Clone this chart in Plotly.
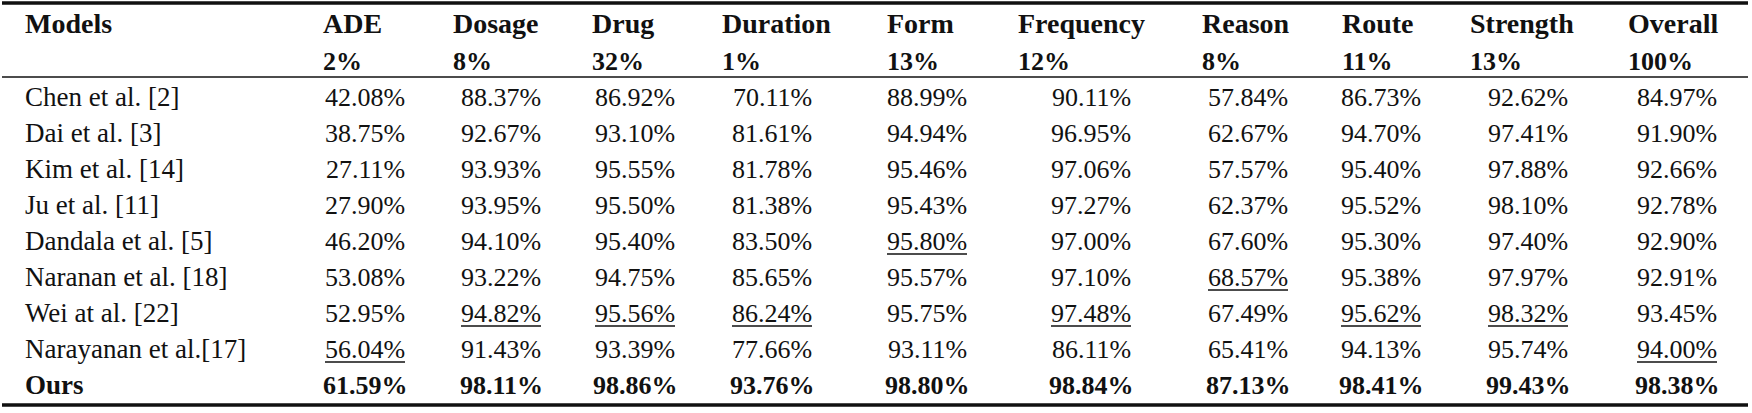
import plotly.graph_objects as go

# table content
models = ["Chen et al. [2]", "Dai et al. [3]", "Kim et al. [14]", "Ju et al. [11]",
          "Dandala et al. [5]", "Naranan et al. [18]", "Wei at al. [22]",
          "Narayanan et al.[17]", "Ours"]
categories = ["ADE", "Dosage", "Drug", "Duration", "Form", "Frequency",
              "Reason", "Route", "Strength", "Overall"]
weights = ["2%", "8%", "32%", "1%", "13%", "12%", "8%", "11%", "13%", "100%"]

chen = [42.08, 88.37, 86.92, 70.11, 88.99, 90.11, 57.84, 86.73, 92.62, 84.97]
dai = [38.75, 92.67, 93.10, 81.61, 94.94, 96.95, 62.67, 94.70, 97.41, 91.90]
kim = [27.11, 93.93, 95.55, 81.78, 95.46, 97.06, 57.57, 95.40, 97.88, 92.66]
ju = [27.90, 93.95, 95.50, 81.38, 95.43, 97.27, 62.37, 95.52, 98.10, 92.78]
dandala = [46.20, 94.10, 95.40, 83.50, 95.80, 97.00, 67.60, 95.30, 97.40, 92.90]
naranan = [53.08, 93.22, 94.75, 85.65, 95.57, 97.10, 68.57, 95.38, 97.97, 92.91]
wei = [52.95, 94.82, 95.56, 86.24, 95.75, 97.48, 67.49, 95.62, 98.32, 93.45]
narayanan = [56.04, 91.43, 93.39, 77.66, 93.11, 86.11, 65.41, 94.13, 95.74, 94.00]
ours = [61.59, 98.11, 98.86, 93.76, 98.80, 98.84, 87.13, 98.41, 99.43, 98.38]

rows = [chen, dai, kim, ju, dandala, naranan, wei, narayanan, ours]

# layout (pixel units on the axes)
W, H = 1752, 413
name_x = 24
head_x = [322, 452, 591, 721, 886, 1017, 1201, 1341, 1469, 1627]
cell_x = [365, 501, 635, 772, 927, 1091, 1248, 1381, 1528, 1677]
head_y1, head_y2 = 23, 61
row0, row_step = 97, 36
rule_top, rule_mid, rule_bot = 3, 77, 405
rule_x0, rule_x1 = 2, 1748

FONT = "Liberation Serif"
INK = "#111111"

fig = go.Figure()
fig.add_trace(go.Scatter(x=[0, W], y=[0, H], mode="markers",
                         marker=dict(opacity=0), hoverinfo="skip", showlegend=False))

ann = []
def txt(x, y, s, size, anchor="center", bold=False):
    if bold:
        s = "<b>" + s + "</b>"
    ann.append(dict(x=x, y=y, xref="x", yref="y", text=s, showarrow=False,
                    xanchor=anchor, yanchor="middle", borderpad=0,
                    font=dict(family=FONT, size=size, color=INK)))

# header
txt(name_x, head_y1, "Models", 28, "left", True)
for c, cat in enumerate(categories):
    txt(head_x[c], head_y1, cat, 28, "left", True)
    txt(head_x[c], head_y2, weights[c], 26, "left", True)

# second best per column (excluding ours) gets underlined
second = [max(r[c] for r in rows[:-1]) for c in range(len(categories))]

shapes = []
for i, (name, vals) in enumerate(zip(models, rows)):
    y = row0 + i * row_step
    last = i == len(rows) - 1
    txt(name_x, y, name, 27, "left", last)
    for c, v in enumerate(vals):
        txt(cell_x[c], y, "%.2f%%" % v, 26, "center", last)
        if not last and v == second[c]:
            shapes.append(dict(type="line", xref="x", yref="y",
                               x0=cell_x[c] - 40, x1=cell_x[c] + 40,
                               y0=y + 13, y1=y + 13,
                               line=dict(color=INK, width=1.5)))

for yy, w in [(rule_top, 3.5), (rule_mid, 1.6), (rule_bot, 3.5)]:
    shapes.append(dict(type="line", xref="x", yref="y", x0=rule_x0, x1=rule_x1,
                       y0=yy, y1=yy, line=dict(color=INK, width=w)))

fig.update_layout(width=W, height=H, margin=dict(l=0, r=0, t=0, b=0),
                  paper_bgcolor="white", plot_bgcolor="white",
                  annotations=ann, shapes=shapes, showlegend=False)
fig.update_xaxes(range=[0, W], visible=False, fixedrange=True)
fig.update_yaxes(range=[H, 0], visible=False, fixedrange=True)

fig.write_html("out.html", config={"displayModeBar": False},
               post_script="document.body.style.margin='0px';")
